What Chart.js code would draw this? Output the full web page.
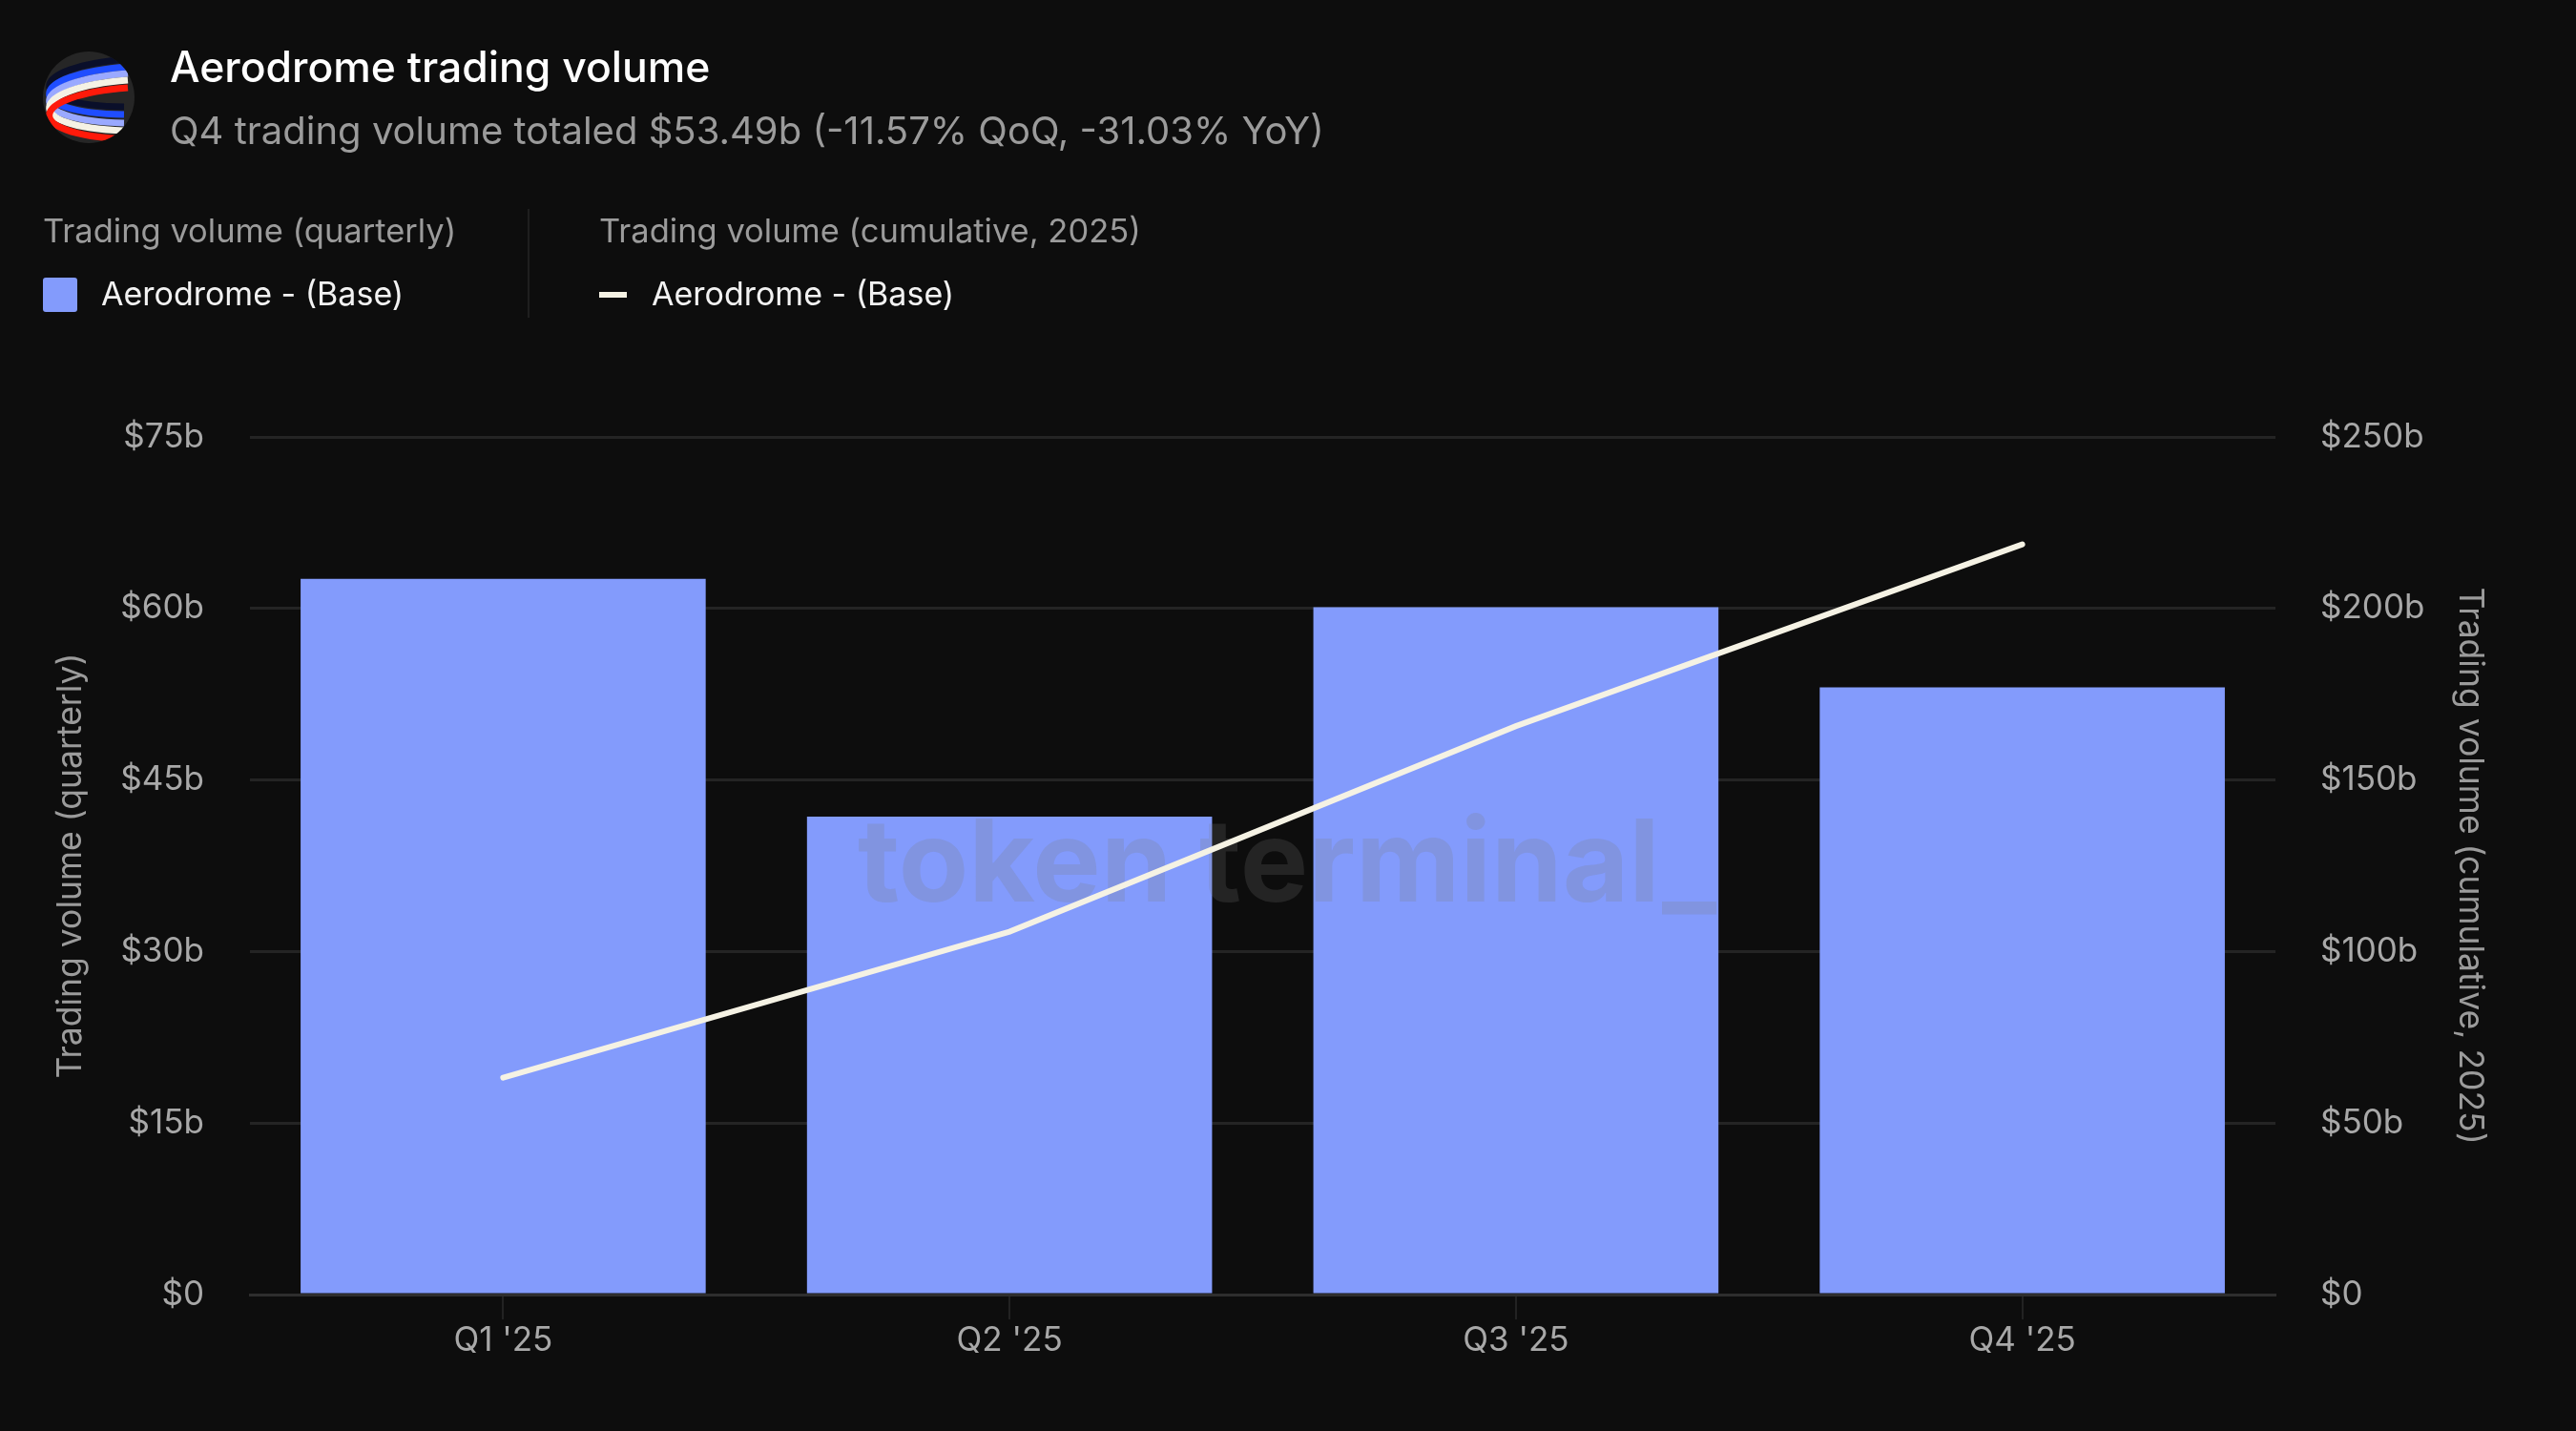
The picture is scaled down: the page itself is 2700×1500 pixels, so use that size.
<!DOCTYPE html>
<html>
<head>
<meta charset="utf-8">
<script src="https://cdn.jsdelivr.net/npm/chart.js@4"></script>
<style>
  html, body { margin: 0; padding: 0; background: #0d0d0d; }
  body { width: 2700px; height: 1500px; position: relative; overflow: hidden; font-family: Inter, "Noto Sans", sans-serif; }
  #chart { position: absolute; left: 0; top: 0; }
  .abs { position: absolute; white-space: nowrap; line-height: 1; }
  .title { left: 178px; top: 48px; font-size: 44.5px; font-weight: 500; color: #ffffff; }
  .subtitle { left: 178px; top: 117px; font-size: 40px; color: #9b9b9b; }
  .lg-head { top: 225px; font-size: 34.5px; color: #9b9b9b; }
  .lg-label { top: 291px; font-size: 34px; color: #f2f2f2; }
  .swatch { position: absolute; left: 45px; top: 291px; width: 36px; height: 36px; border-radius: 3px; background: #839bfc; }
  .lineswatch { position: absolute; left: 628px; top: 306px; width: 29px; height: 6px; background: #f5f2e4; }
  .sep { position: absolute; left: 553px; top: 219px; width: 2px; height: 114px; background: #1f1f1f; }
  #logo { position: absolute; left: 30px; top: 40px; }
</style>
</head>
<body>
<canvas id="chart" width="2700" height="1500"></canvas>

<svg id="logo" width="130" height="130" viewBox="0 0 130 130">
  <defs><clipPath id="c"><circle cx="63" cy="62" r="48"/></clipPath></defs>
  <circle cx="63" cy="62" r="48" fill="#262626"/>
  <g clip-path="url(#c)" fill="none" stroke-width="7" stroke-linecap="butt">
    <path d="M 104 22 C 0 30, -10 70, 100 72" stroke="#0a0f2a"/>
    <path d="M 104 30 C 0 38, -10 78, 100 80" stroke="#1f4dff"/>
    <path d="M 104 37 C 0 45, -10 86, 100 89" stroke="#9aa9ff"/>
    <path d="M 104 44 C 0 52, -10 93, 100 97" stroke="#f5f2e4"/>
    <path d="M 104 52 C 0 60, -10 100, 100 106" stroke="#ff1a0a"/>
  </g>
</svg>

<div class="abs title">Aerodrome trading volume</div>
<div class="abs subtitle">Q4 trading volume totaled $53.49b (-11.57% QoQ, -31.03% YoY)</div>

<div class="abs lg-head" style="left:45px">Trading volume (quarterly)</div>
<div class="swatch"></div>
<div class="abs lg-label" style="left:106px">Aerodrome - (Base)</div>
<div class="sep"></div>
<div class="abs lg-head" style="left:628px">Trading volume (cumulative, 2025)</div>
<div class="lineswatch"></div>
<div class="abs lg-label" style="left:683px">Aerodrome - (Base)</div>

<script>
// values in billions of USD
const quarters = ["Q1 '25", "Q2 '25", "Q3 '25", "Q4 '25"];
const quarterlyVolume = [62.6, 41.8, 60.1, 53.1];
const cumulativeVolume = [63.2, 105.8, 165.7, 218.7];
const leftTickValues = [0, 15, 30, 45, 60, 75];
const rightTickValues = [0, 50, 100, 150, 200, 250];

const TICK_COLOR = '#a8a8a8';
const GRID_COLOR = '#242424';
const tickFont = { family: 'Inter', size: 35 };
const titleFont = { family: 'Inter', size: 35.5 };

const fmt = v => v === 0 ? '$0' : '$' + v + 'b';

// faint "token terminal_" mark, drawn above the bars but under the line
const watermark = {
  id: 'watermark',
  beforeDatasetDraw(chart, args) {
    if (args.index !== 1) return;
    const ctx = chart.ctx;
    ctx.save();
    ctx.font = '700 120px Inter';
    ctx.fillStyle = 'rgba(121,121,121,0.21)';
    ctx.textAlign = 'left';
    ctx.textBaseline = 'alphabetic';
    ctx.fillText('token terminal_', 899, 945);
    ctx.restore();
  }
};

new Chart(document.getElementById('chart'), {
  data: {
    labels: quarters,
    datasets: [
      {
        type: 'bar',
        label: 'Aerodrome - (Base)',
        data: quarterlyVolume,
        backgroundColor: '#839bfc',
        barPercentage: 0.8,
        categoryPercentage: 1.0,
        yAxisID: 'y',
        order: 1
      },
      {
        type: 'line',
        label: 'Aerodrome - (Base)',
        data: cumulativeVolume,
        borderColor: '#f5f2e4',
        borderWidth: 6,
        borderCapStyle: 'round',
        pointRadius: 0,
        tension: 0,
        yAxisID: 'y2',
        order: 0
      }
    ]
  },
  options: {
    responsive: false,
    animation: false,
    layout: { padding: { top: 458, left: 0, right: 0, bottom: 0 } },
    plugins: { legend: { display: false }, tooltip: { enabled: false } },
    scales: {
      x: {
        grid: { display: true, drawOnChartArea: false, drawTicks: true, tickLength: 26, offset: false, color: '#222222', lineWidth: 2 },
        border: { display: true, color: '#2e2e2e', width: 3 },
        ticks: { color: TICK_COLOR, font: tickFont, padding: 1, maxRotation: 0 },
        afterFit(scale) { scale.height = 143; }
      },
      y: {
        position: 'left',
        min: 0, max: 75,
        afterBuildTicks(scale) { scale.ticks = leftTickValues.map(v => ({ value: v })); },
        grid: { color: GRID_COLOR, lineWidth: 3, drawTicks: false },
        border: { display: false },
        ticks: { color: TICK_COLOR, font: tickFont, padding: 48, callback: fmt },
        title: { display: true, text: 'Trading volume (quarterly)', color: '#9b9b9b', font: titleFont, padding: { top: 53, bottom: 0 } },
        afterFit(scale) { scale.width = 262; }
      },
      y2: {
        position: 'right',
        min: 0, max: 250,
        afterBuildTicks(scale) { scale.ticks = rightTickValues.map(v => ({ value: v })); },
        grid: { display: false, drawTicks: false },
        border: { display: false },
        ticks: { color: TICK_COLOR, font: tickFont, padding: 47, callback: fmt },
        title: { display: true, text: 'Trading volume (cumulative, 2025)', color: '#9b9b9b', font: titleFont, padding: { top: 90, bottom: 0 } },
        afterFit(scale) { scale.width = 315; }
      }
    }
  },
  plugins: [watermark]
});
</script>
</body>
</html>
